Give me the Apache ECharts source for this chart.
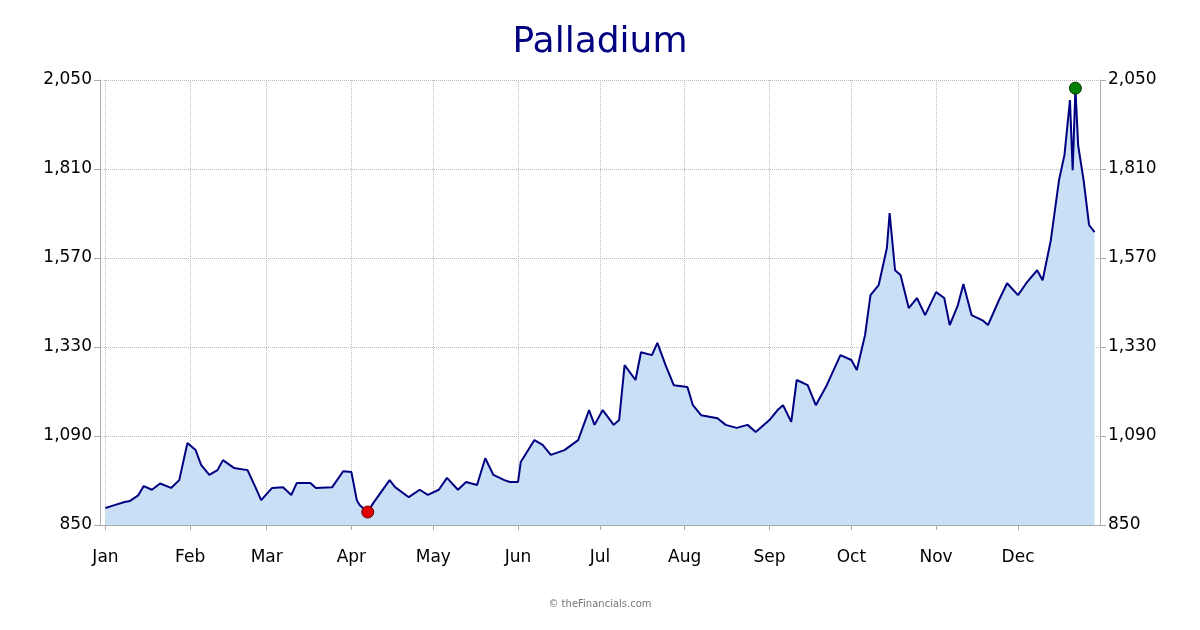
<!DOCTYPE html>
<html>
<head>
<meta charset="utf-8">
<script src="https://cdn.jsdelivr.net/npm/echarts@6/dist/echarts.min.js"></script>
<style>html,body{margin:0;background:#fff}#chart{width:1200px;height:630px}</style>
</head>
<body>
<div id="chart"></div>
<script>
// palladium daily-ish closes
var dates = ['2019-01-01','2019-01-04','2019-01-08','2019-01-10','2019-01-13','2019-01-15','2019-01-18','2019-01-21','2019-01-25','2019-01-28','2019-01-31',
  '2019-02-03','2019-02-05','2019-02-08','2019-02-11','2019-02-13','2019-02-17','2019-02-22','2019-02-25','2019-02-27',
  '2019-03-03','2019-03-07','2019-03-10','2019-03-12','2019-03-17','2019-03-19','2019-03-25','2019-03-29',
  '2019-04-01','2019-04-03','2019-04-04','2019-04-07','2019-04-09','2019-04-15','2019-04-17','2019-04-22','2019-04-26','2019-04-29',
  '2019-05-03','2019-05-06','2019-05-10','2019-05-13','2019-05-17','2019-05-20','2019-05-23','2019-05-27','2019-05-29',
  '2019-06-01','2019-06-02','2019-06-07','2019-06-10','2019-06-13','2019-06-18','2019-06-23','2019-06-27','2019-06-29',
  '2019-07-02','2019-07-06','2019-07-08','2019-07-10','2019-07-14','2019-07-16','2019-07-20','2019-07-22','2019-07-25','2019-07-28',
  '2019-08-02','2019-08-04','2019-08-07','2019-08-13','2019-08-16','2019-08-20','2019-08-24','2019-08-27',
  '2019-09-01','2019-09-04','2019-09-06','2019-09-09','2019-09-11','2019-09-15','2019-09-18','2019-09-22','2019-09-27',
  '2019-10-01','2019-10-03','2019-10-06','2019-10-08','2019-10-11','2019-10-14','2019-10-15','2019-10-17','2019-10-19','2019-10-22','2019-10-25','2019-10-28',
  '2019-11-01','2019-11-04','2019-11-06','2019-11-09','2019-11-11','2019-11-14','2019-11-18','2019-11-20','2019-11-24','2019-11-27',
  '2019-12-01','2019-12-04','2019-12-08','2019-12-10','2019-12-13','2019-12-16','2019-12-18','2019-12-20','2019-12-21','2019-12-22','2019-12-23','2019-12-25','2019-12-27','2019-12-29'];
var prices = [896,903,912,915,930,955,945,962,950,971,1071,
  1052,1012,985,998,1025,1004,998,950,917,
  950,952,931,963,963,950,952,995,
  993,917,904,885,909,971,952,925,945,931,
  945,977,945,966,958,1030,985,971,966,
  966,1020,1079,1066,1039,1052,1079,1160,1120,
  1160,1120,1133,1281,1241,1316,1308,1341,1281,1227,
  1222,1173,1146,1138,1120,1112,1120,1101,
  1133,1160,1173,1128,1241,1227,1173,1227,1308,
  1295,1268,1362,1470,1497,1597,1691,1537,1524,1435,1462,1416,
  1478,1462,1389,1443,1500,1416,1402,1389,1456,1502,
  1470,1502,1537,1510,1618,1780,1848,1996,1807,2028,1874,1780,1659,1640];
var yTicks = {min: 850, max: 2050, step: 240};
var monthNames = ['Jan','Feb','Mar','Apr','May','Jun','Jul','Aug','Sep','Oct','Nov','Dec'];

var chart = echarts.init(document.getElementById('chart'));
var yAxisBase = {
  type: 'value', min: yTicks.min, max: yTicks.max, interval: yTicks.step,
  axisLine: {show: true, lineStyle: {color: '#aaa'}},
  axisTick: {show: true, length: 6, lineStyle: {color: '#aaa'}},
  axisLabel: {color: '#000', fontSize: 17, fontFamily: 'DejaVu Sans',
    formatter: function (v) { return v.toLocaleString('en-US'); }},
  splitLine: {lineStyle: {color: '#bbb', type: 'dotted'}}
};
chart.setOption({
  animation: false,
  title: {text: 'Palladium', left: 'center', top: 20,
    textStyle: {color: '#000080', fontSize: 36, fontWeight: 'normal', fontFamily: 'DejaVu Sans'}},
  graphic: [{type: 'text', left: 'center', top: 599,
    style: {text: '© theFinancials.com', fill: '#777', fontSize: 10, fontFamily: 'DejaVu Sans'}}],
  grid: {left: 100, right: 100, top: 80, bottom: 105},
  xAxis: {
    type: 'time', min: '2018-12-30', max: '2019-12-31', splitNumber: 12,
    axisLine: {lineStyle: {color: '#aaa'}},
    axisTick: {show: true, lineStyle: {color: '#aaa'}},
    axisLabel: {color: '#000', fontSize: 17, fontFamily: 'DejaVu Sans', margin: 24,
      formatter: function (v) { return monthNames[new Date(v).getMonth()]; }},
    splitLine: {show: true, lineStyle: {color: '#bbb', type: 'dotted'}}
  },
  yAxis: [Object.assign({position: 'left'}, yAxisBase), Object.assign({position: 'right'}, yAxisBase)],
  series: [{
    type: 'line', showSymbol: false,
    data: dates.map(function (d, i) { return [d, prices[i]]; }),
    lineStyle: {color: '#000080', width: 2},
    areaStyle: {color: '#c8dff5', opacity: 1},
    markPoint: {
      symbol: 'circle', symbolSize: 12, label: {show: false},
      data: [
        {type: 'min', itemStyle: {color: '#e00000', borderColor: '#600', borderWidth: 1}},
        {type: 'max', itemStyle: {color: '#008000', borderColor: '#030', borderWidth: 1}}
      ]
    }
  }]
});
</script>
</body>
</html>
